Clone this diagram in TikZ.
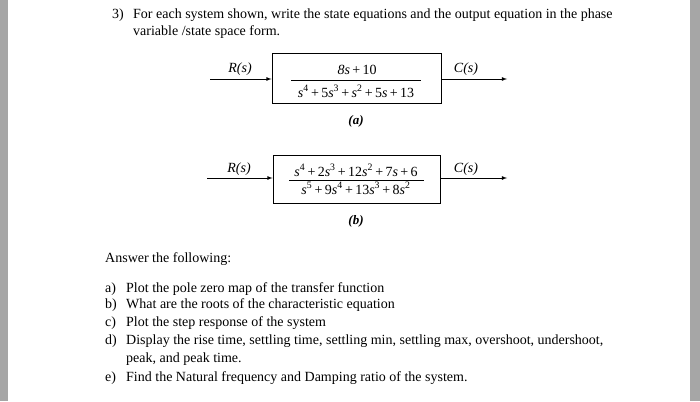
\documentclass[tikz,border=0pt]{standalone}
\usepackage{fontspec}
\setmainfont{Liberation Serif}
\begin{document}
\begin{tikzpicture}[x=1pt,y=-1pt,
  txt/.style={anchor=base west,inner sep=0pt,font=\fontsize{14}{16}\selectfont},
  lbl/.style={anchor=base,inner sep=0pt,font=\fontsize{14}{16}\selectfont\itshape},
  frac/.style={anchor=base,inner sep=0pt,font=\fontsize{14}{16}\selectfont},
  blk/.style={draw,line width=1pt,inner sep=0pt},
  sig/.style={line width=0.8pt,-latex}]
\useasboundingbox (0,0) rectangle (700,401);
\fill[white] (0,0) rectangle (700,401);
\fill[gray!70] (0,0) rectangle (8,401);
\fill[gray!70] (690,0) rectangle (700,401);
\node[txt] (n3) at (112,19) {3)};
\node[txt] (l1) at (133,19) {For each system shown, write the state equations and the output equation in the phase};
\node[txt] (l2) at (133,36) {variable /state space form.};
% block a
\node[blk,minimum width=169pt,minimum height=49pt] (ba) at (356.5,78.5) {};
\node[frac] (na) at (357,75) {\textit{8s}\,+\,10};
\node[frac] (da) at (356,97) {\textit{s}\textsuperscript{4}\,+\,5\textit{s}\textsuperscript{3}\,+\,\textit{s}\textsuperscript{2}\,+\,5\textit{s}\,+\,13};
\draw[line width=0.6pt] (291,80) -- (421,80);
\coordinate (ina) at (210,79);
\coordinate (outa) at (507,79);
\draw[sig] (ina) -- (ba.west|-ina);
\draw[sig] (ba.east|-outa) -- (outa);
\node[lbl] (ra) at (240,73) {R(s)};
\node[lbl] (ca) at (466,73) {C(s)};
\node[lbl,font=\fontsize{13}{15}\selectfont\bfseries\itshape] (capa) at (356,124) {(a)};
% block b
\node[blk,minimum width=167pt,minimum height=48pt] (bb) at (356.5,179) {};
\node[frac] (nb) at (356,176) {\textit{s}\textsuperscript{4}\,+\,2\textit{s}\textsuperscript{3}\,+\,12\textit{s}\textsuperscript{2}\,+\,7\textit{s}\,+\,6};
\node[frac] (db) at (356,194) {\textit{s}\textsuperscript{5}\,+\,9\textit{s}\textsuperscript{4}\,+\,13\textit{s}\textsuperscript{3}\,+\,8\textit{s}\textsuperscript{2}};
\draw[line width=0.6pt] (289,180) -- (424,180);
\coordinate (inb) at (207,178);
\coordinate (outb) at (507,178);
\draw[sig] (inb) -- (bb.west|-inb);
\draw[sig] (bb.east|-outb) -- (outb);
\node[lbl] (rb) at (239,172) {R(s)};
\node[lbl] (cb) at (466,172) {C(s)};
\node[lbl,font=\fontsize{13}{15}\selectfont\bfseries\itshape] (capb) at (356,224) {(b)};
% questions
\node[txt] (ans) at (105,262) {Answer the following:};
\node[txt] (qa) at (105,292) {a)};
\node[txt] (ta) at (126,292) {Plot the pole zero map of the transfer function};
\node[txt] (qb) at (105,308) {b)};
\node[txt] (tb) at (126,308) {What are the roots of the characteristic equation};
\node[txt] (qc) at (105,326) {c)};
\node[txt] (tc) at (126,326) {Plot the step response of the system};
\node[txt] (qd) at (105,344) {d)};
\node[txt] (td) at (126,344) {Display the rise time, settling time, settling min, settling max, overshoot, undershoot,};
\node[txt] (td2) at (126,362) {peak, and peak time.};
\node[txt] (qe) at (105,381) {e)};
\node[txt] (te) at (126,381) {Find the Natural frequency and Damping ratio of the system.};
\end{tikzpicture}
\end{document}
